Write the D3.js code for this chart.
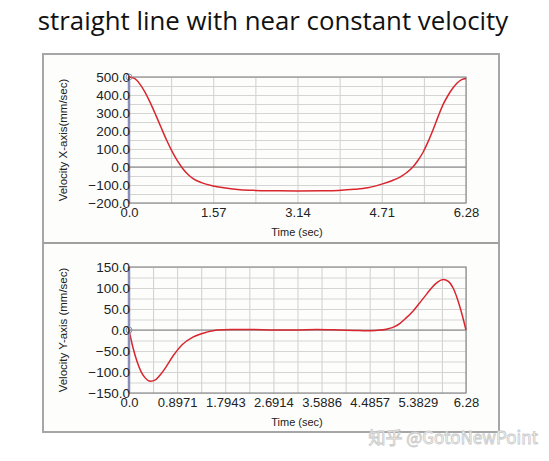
<!DOCTYPE html>
<html>
<head>
<meta charset="utf-8">
<script src="https://cdn.jsdelivr.net/npm/d3@7"></script>
<style>
  body { margin: 0; background: #fff; }
  text { font-family: "Liberation Sans", Arial, sans-serif; }
</style>
</head>
<body>
<svg width="549" height="461"></svg>
<script>

// velocity along X (mm/sec) vs time (sec)
let timeX = [0, 0.1, 0.2, 0.3, 0.4, 0.5, 0.6, 0.7, 0.8, 0.9, 1.0, 1.1, 1.2, 1.35, 1.57, 1.8, 2.07, 2.35, 2.7, 3.14,
    3.6, 3.9, 4.2, 4.45, 4.71, 4.9, 5.05, 5.17, 5.29, 5.38, 5.48, 5.57, 5.67, 5.76, 5.85, 5.95, 6.04, 6.12, 6.2, 6.28];
let velX = [500, 492, 462, 415, 355, 288, 218, 150, 88, 35, -8, -42, -66, -87, -105, -117, -126, -130, -132, -133,
    -132, -130, -124, -115, -95, -76, -56, -32, 0, 35, 82, 138, 210, 280, 345, 400, 440, 468, 485, 492];

// velocity along Y (mm/sec) vs time (sec)
let timeY = [0, 0.07, 0.15, 0.22, 0.3, 0.4, 0.5, 0.6, 0.7, 0.82, 0.99, 1.19, 1.45, 1.65, 1.9, 2.3, 2.7, 3.1, 3.5,
    3.9, 4.2, 4.43, 4.6, 4.8, 4.95, 5.05, 5.15, 5.3, 5.45, 5.55, 5.65, 5.75, 5.86, 5.95, 6.04, 6.12, 6.2, 6.28];
let velY = [0, -40, -75, -98, -114, -122, -118, -104, -86, -62, -35, -17, -5, 0, 1, 1, 0, 0, 1,
    0, -1, -2, -1, 2, 8, 16, 27, 46, 70, 86, 102, 114, 120, 116, 100, 74, 40, 0];

let topXTicks = [0, 1.57, 3.14, 4.71, 6.28];
let topXLabels = ['0.0', '1.57', '3.14', '4.71', '6.28'];
let topYTicks = [-200, -100, 0, 100, 200, 300, 400, 500];

let botXTicks = [0, 0.8971, 1.7943, 2.6914, 3.5886, 4.4857, 5.3829, 6.28];
let botXLabels = ['0.0', '0.8971', '1.7943', '2.6914', '3.5886', '4.4857', '5.3829', '6.28'];
let botYTicks = [-150, -100, -50, 0, 50, 100, 150];

let svg = d3.select('svg');

svg.append('text')
    .attr('x', 273)
    .attr('y', 30)
    .attr('text-anchor', 'middle')
    .style('font-family', '"Open Sans", "Noto Sans", sans-serif')
    .style('font-size', '25.8px')
    .style('fill', '#111')
    .text('straight line with near constant velocity');

// outer frame and the divider between the two panels
svg.append('rect')
    .attr('x', 43).attr('y', 54)
    .attr('width', 456).attr('height', 378)
    .style('fill', '#fdfefc')
    .style('stroke', '#a6a6a6')
    .style('stroke-width', 2);
svg.append('line')
    .attr('x1', 43).attr('x2', 499)
    .attr('y1', 243).attr('y2', 243)
    .style('stroke', '#a0a0a0')
    .style('stroke-width', 2);

function panel(o) {
    let left = 129, right = 466;
    let x = d3.scaleLinear().domain([0, 6.28]).range([left, right]);
    let y = d3.scaleLinear().domain(o.yDomain).range([o.bottom, o.top]);
    let g = svg.append('g');

    // minor + major grid
    let step = (o.xTicks[1] - o.xTicks[0]) / 2;
    let vgrid = d3.range(0, o.xTicks.length * 2 - 1).map(i => i * step);
    g.append('g')
        .attr('transform', 'translate(0,' + o.bottom + ')')
        .call(d3.axisBottom(x).tickValues(vgrid).tickSize(o.top - o.bottom).tickFormat(''))
        .call(a => a.select('.domain').remove())
        .selectAll('line').style('stroke', '#cfcfcf');
    g.append('g')
        .attr('transform', 'translate(' + left + ',0)')
        .call(d3.axisLeft(y).tickValues(d3.range(o.yDomain[0], o.yDomain[1] + 1, o.yMinor)).tickSize(left - right).tickFormat(''))
        .call(a => a.select('.domain').remove())
        .selectAll('line').style('stroke', '#d4d4d4');

    // zero line and plot border
    g.append('line')
        .attr('x1', left).attr('x2', right)
        .attr('y1', y(0)).attr('y2', y(0))
        .style('stroke', '#7a7a7a').style('stroke-width', 1.2);
    g.append('rect')
        .attr('x', left).attr('y', o.top)
        .attr('width', right - left).attr('height', o.bottom - o.top)
        .style('fill', 'none').style('stroke', '#8c8c8c').style('stroke-width', 1.2);

    // curve
    let line = d3.line()
        .x((d, i) => x(o.t[i]))
        .y(d => y(d))
        .curve(d3.curveMonotoneX);
    g.append('path')
        .datum(o.v)
        .attr('d', line)
        .style('fill', 'none')
        .style('stroke', '#d9262e')
        .style('stroke-width', 1.5);

    // left axis bar
    g.append('line')
        .attr('x1', left).attr('x2', left)
        .attr('y1', o.top).attr('y2', o.bottom)
        .style('stroke', '#8b8fb8').style('stroke-width', 2.5);
    g.append('circle')
        .attr('cx', x(o.t[0])).attr('cy', y(o.v[0]))
        .attr('r', 3)
        .style('fill', 'none').style('stroke', '#8e92a8').style('stroke-width', 1);

    // tick labels
    g.append('g')
        .attr('transform', 'translate(' + (left + 1) + ',0)')
        .call(d3.axisLeft(y).tickValues(o.yTicks).tickSize(0).tickPadding(0).tickFormat(d3.format('.1f')))
        .call(a => a.select('.domain').remove())
        .selectAll('text')
        .style('font-family', '"Liberation Sans", Arial, sans-serif')
        .style('font-size', '13.5px')
        .style('fill', '#222');
    g.append('g')
        .attr('transform', 'translate(0,' + o.bottom + ')')
        .call(d3.axisBottom(x).tickValues(o.xTicks).tickSize(0).tickPadding(5).tickFormat((d, i) => o.xLabels[i]))
        .call(a => a.select('.domain').remove())
        .selectAll('text')
        .style('font-family', '"Liberation Sans", Arial, sans-serif')
        .style('font-size', '13px')
        .style('fill', '#222');

    // axis titles
    g.append('text')
        .attr('text-anchor', 'middle')
        .attr('transform', 'translate(67,' + ((o.top + o.bottom) / 2) + ')rotate(-90)')
        .style('font-size', '11.5px')
        .style('fill', '#222')
        .text(o.yTitle);
    g.append('text')
        .attr('text-anchor', 'middle')
        .attr('x', 297)
        .attr('y', o.bottom + 33)
        .style('font-size', '11px')
        .style('fill', '#222')
        .text('Time (sec)');
}

panel({ top: 77, bottom: 203, yDomain: [-200, 500], yMinor: 50, yTicks: topYTicks,
    xTicks: topXTicks, xLabels: topXLabels, t: timeX, v: velX, yTitle: 'Velocity X-axis(mm/sec)' });
panel({ top: 267, bottom: 393, yDomain: [-150, 150], yMinor: 25, yTicks: botYTicks,
    xTicks: botXTicks, xLabels: botXLabels, t: timeY, v: velY, yTitle: 'Velocity Y-axis (mm/sec)' });

// watermark
svg.append('text')
    .attr('x', 538)
    .attr('y', 444)
    .attr('text-anchor', 'end')
    .style('font-family', '"Noto Sans CJK SC", "Noto Sans", sans-serif')
    .style('font-size', '17px')
    .style('fill', '#ffffff')
    .style('stroke', '#c8c8c8')
    .style('stroke-width', 0.8)
    .text('知乎 @GotoNewPoint');

</script>
</body>
</html>
